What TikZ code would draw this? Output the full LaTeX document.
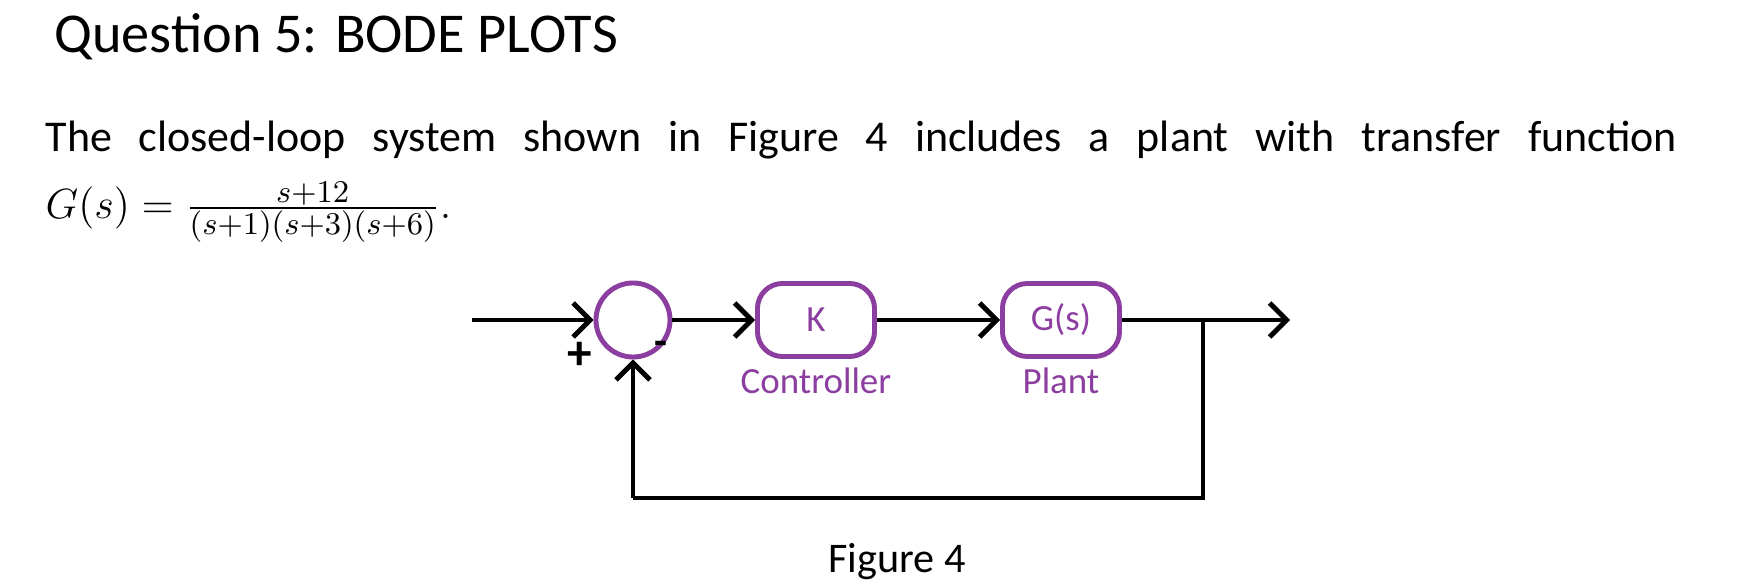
\documentclass[tikz,border=0pt]{standalone}
\usepackage{fontspec}
\setmainfont{Carlito}
\usepackage{amsmath}
\usetikzlibrary{arrows.meta}
\definecolor{loop}{RGB}{140,62,160}
\begin{document}
\begin{tikzpicture}[x=0.01cm,y=-0.01cm,
    sig/.style={loop, line width=1.4pt, -{Straight Barb[length=1.7mm,width=3.4mm,line width=1.4pt]}},
    wire/.style={loop, line width=1.4pt},
    blk/.style={draw=loop, line width=1.4pt, rounded corners=2.5mm, minimum width=1.17cm, minimum height=0.73cm, text=loop, font=\fontsize{10.5}{12}\selectfont},
    lbl/.style={text=loop, font=\fontsize{10.5}{12}\selectfont}]
  \useasboundingbox (0,0) rectangle (1753,585);

  \node[anchor=base west, font=\fontsize{16}{19}\selectfont] (title) at (42,53) {Question 5: BODE PLOTS};
  \node[anchor=base west, inner sep=0, font=\fontsize{12.5}{15}\selectfont] (para) at (45,152)
    {\hbox to 464pt{The\hfill closed-loop\hfill system\hfill shown\hfill in\hfill Figure\hfill 4\hfill includes\hfill a\hfill plant\hfill with\hfill transfer\hfill function}};
  \node[anchor=west, inner sep=0, font=\fontsize{12.5}{15}\selectfont] (tf) at (45,212)
    {$G(s)=\tfrac{s+12}{(s+1)(s+3)(s+6)}.$};

  \node[draw=loop, line width=1.4pt, circle, minimum size=0.74cm, inner sep=0] (sum) at (633,320) {};
  \node[blk] (ctl) at (816,320) {K};
  \node[blk] (plant) at (1061,320) {G(s)};
  \node[lbl] (ctllbl) at (816,381) {Controller};
  \node[lbl] (plantlbl) at (1061,381) {Plant};
  \node[loop, font=\bfseries\fontsize{14}{16}\selectfont] (plus) at (580,356) {+};
  \node[loop, font=\bfseries\fontsize{12}{14}\selectfont] (minus) at (661,348) {-};
  \coordinate (in) at (472,320);
  \coordinate (out) at (1290,320);
  \coordinate (br) at (1203,320);
  \coordinate (bl) at (633,498);
  \node[font=\fontsize{12}{14}\selectfont] (fig) at (897,562) {Figure 4};

  \draw[sig] (in) -- (sum);
  \draw[sig] (sum) -- (ctl);
  \draw[sig] (ctl) -- (plant);
  \draw[sig] (plant) -- (out);
  \draw[wire] (br) |- (bl);
  \draw[sig] (bl) -- (sum);
\end{tikzpicture}
\end{document}
